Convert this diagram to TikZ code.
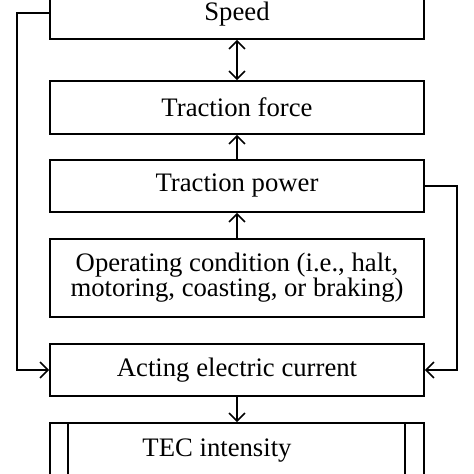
\documentclass[tikz,border=0pt]{standalone}
\usepackage{fontspec}
\setmainfont{Liberation Serif}
\usetikzlibrary{arrows.meta}
\begin{document}
\begin{tikzpicture}[x=1pt,y=-1pt,
  box/.style={draw, line width=1.7pt, minimum width=374pt, inner sep=0pt, align=center,
    font=\fontsize{26.7}{29}\selectfont},
  conn/.style={line width=1.6pt, -{Straight Barb[length=8pt,width=16pt,line width=1.6pt]}},
  lbl/.style={inner sep=0pt, font=\fontsize{26.7}{29}\selectfont}]
\useasboundingbox (0,0) rectangle (474,474);
\node[box, minimum height=50pt] (speed) at (237,14) {Speed};
\node[box, minimum height=53pt] (force) at (237,107.5) {Traction force};
\node[box, minimum height=52pt] (power) at (237,186) {Traction power};
\node[box, minimum height=78pt] (oper) at (237,278) {Operating condition (i.e., halt,\\[-4pt]motoring, coasting, or braking)};
\node[box, minimum height=52pt] (act) at (237,370) {Acting electric current};
\node[box, minimum height=90pt] (tec) at (237,468) {};
\draw[line width=1.7pt] ([xshift=19pt]tec.north west) -- ([xshift=19pt]tec.south west);
\draw[line width=1.7pt] ([xshift=-20pt]tec.north east) -- ([xshift=-20pt]tec.south east);
\node[lbl] (tectext) at (217,451) {TEC intensity};
\draw[conn, {Straight Barb[length=8pt,width=16pt,line width=1.6pt]}-{Straight Barb[length=8pt,width=16pt,line width=1.6pt]}] (speed) -- (force);
\draw[conn] (power) -- (force);
\draw[conn] (oper) -- (power);
\draw[conn] (act) -- (tec);
\draw[conn] ([yshift=1pt]speed.west) -| (17,370) -- (act.west);
\draw[conn] (power.east) -| (457,370) -- (act.east);
\end{tikzpicture}
\end{document}
